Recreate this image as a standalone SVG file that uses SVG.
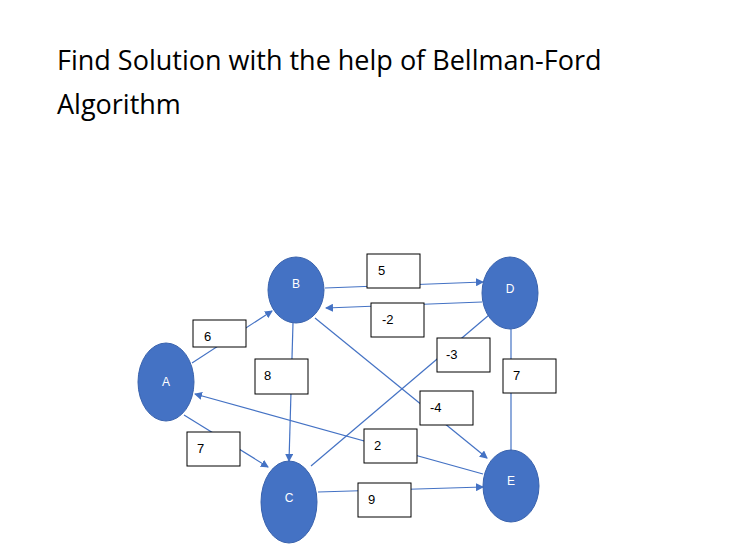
<svg xmlns="http://www.w3.org/2000/svg" width="737" height="556" viewBox="0 0 737 556">
<style>
.n{fill:#4472c4;stroke:#3a63ad;stroke-width:1}
.nt{font-family:"Liberation Sans",Arial,sans-serif;font-size:12px;fill:#fff;text-anchor:middle}
.e{stroke:#4472c4;stroke-width:1.2;fill:none}
.b{fill:#fff;stroke:#000;stroke-width:1}
.bt{font-family:"Liberation Sans",Arial,sans-serif;font-size:13px;fill:#000}
.t{font-family:"Open Sans","Liberation Sans",sans-serif;font-size:27px;fill:#000}
</style>
<defs>
<marker id="ar" markerWidth="8" markerHeight="8" refX="7" refY="4" orient="auto" markerUnits="userSpaceOnUse">
<path d="M0,0 L8,4 L0,8 z" fill="#4472c4"/>
</marker>
</defs>
<rect width="737" height="556" fill="#fff"/>
<text class="t" x="57" y="70">Find Solution with the help of Bellman-Ford</text>
<text class="t" x="57" y="114">Algorithm</text>
<g id="connectors">
<line class="e" x1="192" y1="363" x2="272" y2="311" marker-end="url(#ar)"/>
<line class="e" x1="325" y1="288" x2="483" y2="282" marker-end="url(#ar)"/>
<line class="e" x1="482" y1="302" x2="326" y2="308" marker-end="url(#ar)"/>
<line class="e" x1="293" y1="323" x2="289" y2="461" marker-end="url(#ar)"/>
<line class="e" x1="315" y1="318" x2="487" y2="458" marker-end="url(#ar)"/>
<line class="e" x1="311" y1="466" x2="489" y2="315"/>
<line class="e" x1="511" y1="329" x2="511" y2="451"/>
<line class="e" x1="184" y1="415" x2="268" y2="467" marker-end="url(#ar)"/>
<line class="e" x1="483" y1="474" x2="195" y2="394" marker-end="url(#ar)"/>
<line class="e" x1="318" y1="492" x2="483" y2="487" marker-end="url(#ar)"/>
</g>
<g id="A"><ellipse class="n" cx="166" cy="382" rx="28" ry="39"/><text class="nt" x="166" y="386">A</text></g>
<g id="B"><ellipse class="n" cx="296" cy="290" rx="28" ry="33"/><text class="nt" x="296" y="288">B</text></g>
<g id="D"><ellipse class="n" cx="510" cy="293" rx="28" ry="36"/><text class="nt" x="510" y="293">D</text></g>
<g id="C"><ellipse class="n" cx="289" cy="502" rx="28" ry="41"/><text class="nt" x="289" y="502">C</text></g>
<g id="E"><ellipse class="n" cx="511" cy="486" rx="28" ry="36"/><text class="nt" x="511" y="485">E</text></g>
<g id="l5"><rect class="b" x="367" y="254" width="53" height="34"/><text class="bt" x="378" y="275">5</text></g>
<g id="lm2"><rect class="b" x="371" y="303" width="53" height="34"/><text class="bt" x="382" y="324">-2</text></g>
<g id="l6"><rect class="b" x="193" y="320" width="53" height="27"/><text class="bt" x="204" y="341">6</text></g>
<g id="l8"><rect class="b" x="255" y="359" width="53" height="35"/><text class="bt" x="264" y="380">8</text></g>
<g id="lm3"><rect class="b" x="437" y="338" width="53" height="34"/><text class="bt" x="446" y="359">-3</text></g>
<g id="l7de"><rect class="b" x="503" y="359" width="53" height="34"/><text class="bt" x="513" y="380">7</text></g>
<g id="lm4"><rect class="b" x="420" y="391" width="53" height="34"/><text class="bt" x="430" y="412">-4</text></g>
<g id="l2"><rect class="b" x="364" y="429" width="53" height="34"/><text class="bt" x="374" y="450">2</text></g>
<g id="l7ac"><rect class="b" x="187" y="432" width="53" height="34"/><text class="bt" x="197" y="453">7</text></g>
<g id="l9"><rect class="b" x="358" y="483" width="53" height="34"/><text class="bt" x="368" y="504">9</text></g>
</svg>
